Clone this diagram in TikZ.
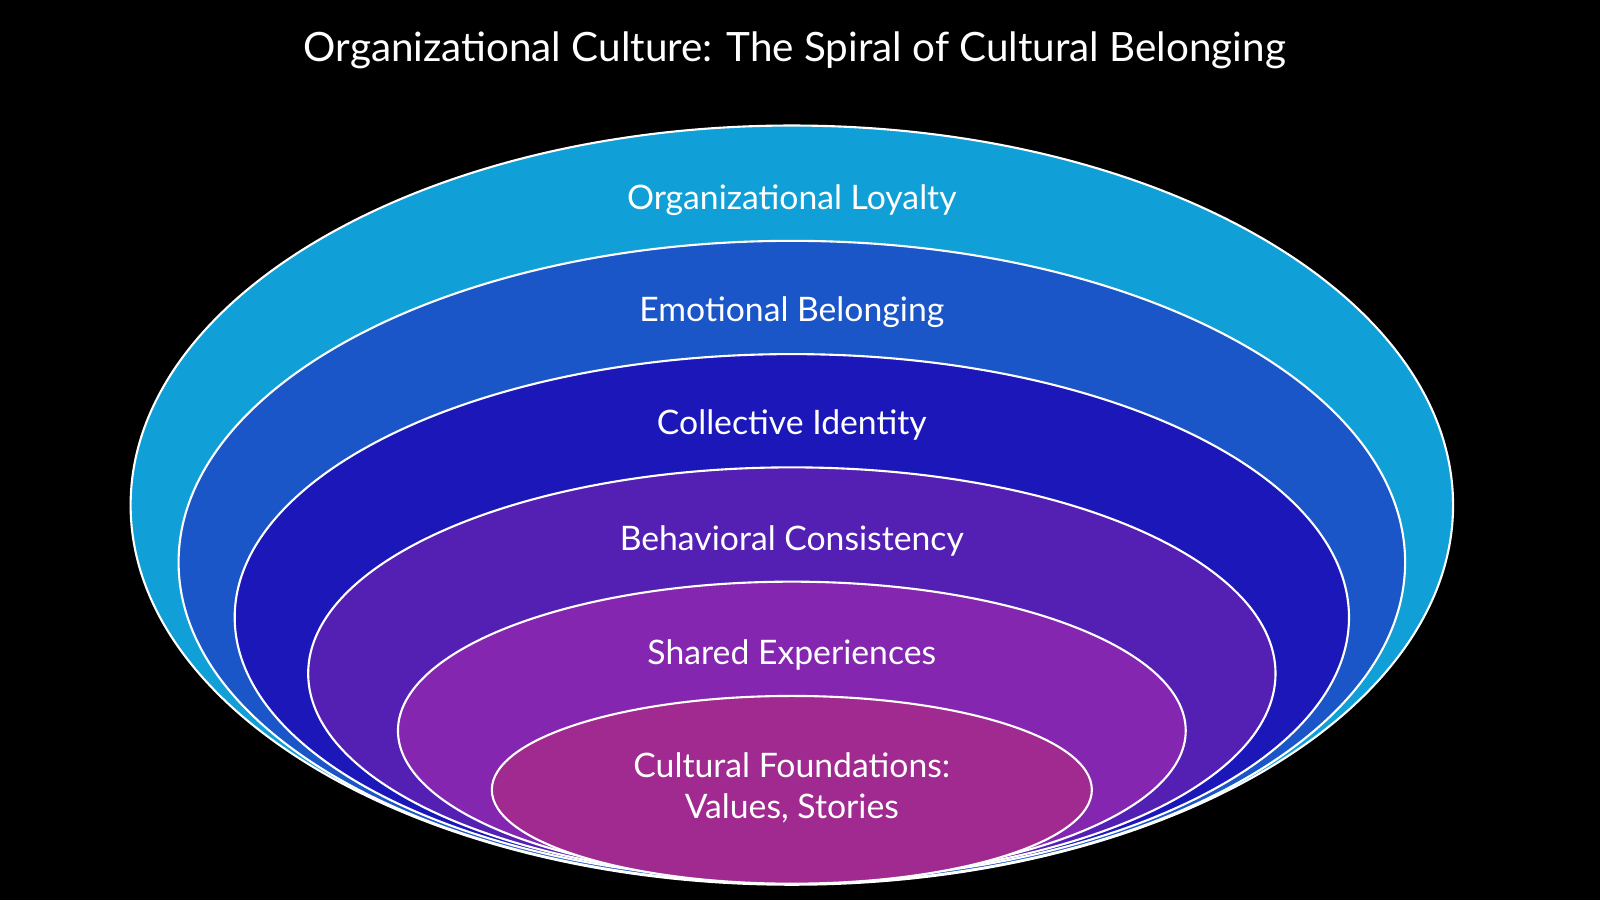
\documentclass[tikz,border=0pt]{standalone}
\usepackage{fontspec}
\setmainfont{Lato}
\begin{document}
\begin{tikzpicture}[x=0.010204cm,y=-0.010204cm,
  ring/.style={draw=white,line width=0.6pt},
  lab/.style={text=white,font=\fontsize{9.6}{11.5}\selectfont,align=center}]
\fill[black] (0,0) rectangle (1568,882);
\useasboundingbox (0,0) rectangle (1568,882);
\node[text=white,font=\fontsize{11.5}{13}\selectfont] (title) at (779,49) {Organizational Culture: The Spiral of Cultural Belonging};
\fill[ring,fill={rgb,255:red,16;green,159;blue,214}] (776,495) ellipse [x radius=648,y radius=372];
\fill[ring,fill={rgb,255:red,26;green,86;blue,200}] (776,551) ellipse [x radius=601,y radius=315];
\fill[ring,fill={rgb,255:red,28;green,23;blue,184}] (776,605) ellipse [x radius=546,y radius=258];
\fill[ring,fill={rgb,255:red,84;green,32;blue,180}] (776,660) ellipse [x radius=474,y radius=202];
\fill[ring,fill={rgb,255:red,133;green,38;blue,176}] (776,716) ellipse [x radius=386,y radius=146];
\fill[ring,fill={rgb,255:red,160;green,42;blue,144}] (776,774) ellipse [x radius=294,y radius=92];
\node[lab] (l1) at (776,196) {Organizational Loyalty};
\node[lab] (l2) at (776,306) {Emotional Belonging};
\node[lab] (l3) at (776,416) {Collective Identity};
\node[lab] (l4) at (776,530) {Behavioral Consistency};
\node[lab] (l5) at (776,642) {Shared Experiences};
\node[lab] (l6) at (776,772) {Cultural Foundations:\\Values, Stories};
\end{tikzpicture}
\end{document}
